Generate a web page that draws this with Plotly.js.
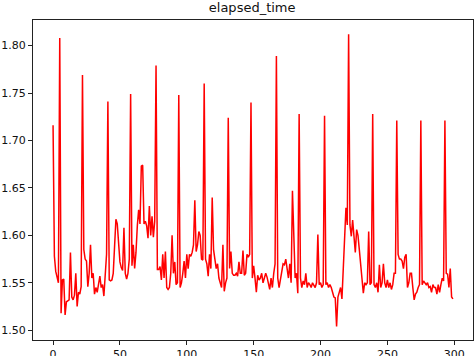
<!DOCTYPE html>
<html>
<head>
<meta charset="utf-8">
<script src="https://cdn.plot.ly/plotly-3.0.1.min.js"></script>
<style>html,body{margin:0;padding:0;background:#fff;}#chart{width:474px;height:356px;}</style>
</head>
<body>
<div id="chart"></div>
<script>
var chartTitle = "elapsed_time";
var xTickVals = [0, 50, 100, 150, 200, 250, 300];
var yTickVals = [1.50, 1.55, 1.60, 1.65, 1.70, 1.75, 1.80];
var elapsedTime = [
  1.716, 1.578, 1.562, 1.556, 1.550, 1.808, 1.518, 1.553, 1.554, 1.516,
  1.530, 1.531, 1.532, 1.582, 1.535, 1.532, 1.537, 1.560, 1.525, 1.540,
  1.538, 1.546, 1.769, 1.585, 1.575, 1.573, 1.546, 1.560, 1.590, 1.555,
  1.560, 1.538, 1.545, 1.540, 1.548, 1.557, 1.545, 1.548, 1.536, 1.560,
  1.580, 1.741, 1.553, 1.552, 1.553, 1.560, 1.590, 1.617, 1.612, 1.595,
  1.572, 1.566, 1.563, 1.608, 1.560, 1.554, 1.560, 1.575, 1.749, 1.568,
  1.590, 1.565, 1.582, 1.610, 1.627, 1.612, 1.673, 1.674, 1.612, 1.615,
  1.610, 1.597, 1.631, 1.600, 1.620, 1.598, 1.615, 1.779, 1.564, 1.564,
  1.567, 1.553, 1.580, 1.555, 1.583, 1.545, 1.543, 1.545, 1.560, 1.600,
  1.560, 1.572, 1.548, 1.550, 1.748, 1.545, 1.550, 1.560, 1.573, 1.555,
  1.580, 1.565, 1.580, 1.578, 1.582, 1.590, 1.637, 1.583, 1.590, 1.604,
  1.600, 1.575, 1.574, 1.760, 1.575, 1.570, 1.557, 1.580, 1.565, 1.640,
  1.585, 1.575, 1.565, 1.570, 1.555, 1.550, 1.545, 1.590, 1.541, 1.550,
  1.555, 1.724, 1.565, 1.583, 1.560, 1.558, 1.558, 1.560, 1.557, 1.572,
  1.560, 1.560, 1.584, 1.558, 1.560, 1.580, 1.577, 1.580, 1.740, 1.555,
  1.568, 1.555, 1.540, 1.558, 1.553, 1.555, 1.560, 1.550, 1.555, 1.560,
  1.556, 1.550, 1.543, 1.555, 1.545, 1.560, 1.570, 1.789, 1.555, 1.545,
  1.555, 1.560, 1.570, 1.569, 1.575, 1.565, 1.555, 1.570, 1.550, 1.647,
  1.600, 1.555, 1.560, 1.539, 1.728, 1.555, 1.545, 1.552, 1.548, 1.560,
  1.545, 1.550, 1.548, 1.545, 1.550, 1.548, 1.545, 1.550, 1.601, 1.548,
  1.550, 1.545, 1.548, 1.726, 1.548, 1.550, 1.545, 1.548, 1.545, 1.540,
  1.535, 1.534, 1.504, 1.535, 1.540, 1.545, 1.533, 1.570, 1.600, 1.629,
  1.611, 1.812, 1.611, 1.599, 1.616, 1.597, 1.582, 1.606, 1.600, 1.585,
  1.570, 1.560, 1.539, 1.550, 1.548, 1.550, 1.604, 1.548, 1.550, 1.728,
  1.548, 1.545, 1.550, 1.540, 1.569, 1.545, 1.550, 1.570, 1.550, 1.545,
  1.553, 1.545, 1.550, 1.543, 1.548, 1.560, 1.560, 1.721, 1.580, 1.575,
  1.575, 1.573, 1.565, 1.577, 1.580, 1.545, 1.550, 1.560, 1.560, 1.545,
  1.532, 1.538, 1.540, 1.545, 1.548, 1.721, 1.548, 1.552, 1.550, 1.548,
  1.550, 1.545, 1.546, 1.540, 1.548, 1.545, 1.545, 1.538, 1.548, 1.540,
  1.548, 1.555, 1.552, 1.721, 1.560, 1.559, 1.545, 1.565, 1.535, 1.533
];
var xIndex = elapsedTime.map(function (_, i) { return i; });

var trace = {
  x: xIndex,
  y: elapsedTime,
  type: 'scatter',
  mode: 'lines',
  line: { color: '#ff0000', width: 1.5 },
  hoverinfo: 'x+y'
};

var axisCommon = {
  showgrid: false,
  zeroline: false,
  showline: true,
  linecolor: '#222222',
  linewidth: 1,
  mirror: true,
  ticks: 'outside',
  ticklen: 4,
  tickwidth: 1,
  tickcolor: '#222222',
  tickfont: { family: 'DejaVu Sans', size: 11, color: '#111111' }
};

var layout = {
  width: 474,
  height: 356,
  margin: { l: 33, r: 1, t: 20, b: 16, pad: 0 },
  paper_bgcolor: '#ffffff',
  plot_bgcolor: '#ffffff',
  showlegend: false,
  title: {
    text: chartTitle,
    font: { family: 'DejaVu Sans', size: 13, color: '#111111' },
    x: 0.532, xanchor: 'center',
    y: 0.978, yanchor: 'middle', yref: 'container'
  },
  xaxis: Object.assign({}, axisCommon, {
    range: [-15, 314],
    tickmode: 'array',
    tickvals: xTickVals,
    ticktext: xTickVals.map(String)
  }),
  yaxis: Object.assign({}, axisCommon, {
    range: [1.4897, 1.827],
    tickmode: 'array',
    tickvals: yTickVals,
    ticktext: yTickVals.map(function (v) { return v.toFixed(2); })
  })
};

Plotly.newPlot('chart', [trace], layout, { displayModeBar: false, staticPlot: true });
</script>
</body>
</html>
